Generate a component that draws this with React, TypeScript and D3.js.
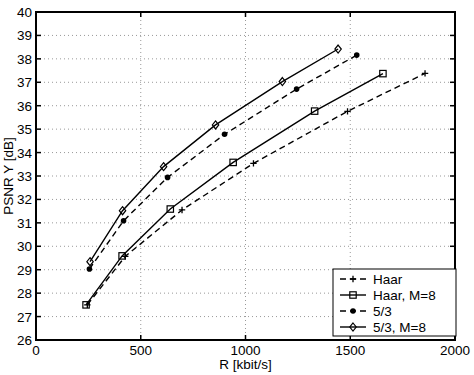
import React from "react";
import * as d3 from "d3";

const xTicks = [0, 500, 1000, 1500, 2000];
const yTicks = [26, 27, 28, 29, 30, 31, 32, 33, 34, 35, 36, 37, 38, 39, 40];

const haarR = [245, 426, 697, 1038, 1487, 1857];
const haarP = [27.5, 29.57, 31.55, 33.54, 35.76, 37.38];
const haarM8R = [239, 411, 641, 941, 1330, 1656];
const haarM8P = [27.5, 29.59, 31.59, 33.58, 35.77, 37.37];
const f53R = [255, 418, 628, 900, 1244, 1531];
const f53P = [29.03, 31.09, 32.94, 34.78, 36.71, 38.16];
const f53M8R = [258, 413, 609, 857, 1176, 1442];
const f53M8P = [29.34, 31.52, 33.4, 35.18, 37.03, 38.42];

const seriesNames = ["Haar", "Haar, M=8", "5/3", "5/3, M=8"];

type Mk = "plus" | "square" | "dot" | "diamond";

const series = [
  { name: seriesNames[0], r: haarR, p: haarP, dash: "6,4", marker: "plus" as Mk },
  { name: seriesNames[1], r: haarM8R, p: haarM8P, dash: "", marker: "square" as Mk },
  { name: seriesNames[2], r: f53R, p: f53P, dash: "6,4", marker: "dot" as Mk },
  { name: seriesNames[3], r: f53M8R, p: f53M8P, dash: "", marker: "diamond" as Mk },
];

const W = 474;
const H = 375;
const L = 36, R = 455, T = 12, B = 340;

function Marker({ type, x, y }: { type: Mk; x: number; y: number }) {
  const s = 3.2;
  if (type === "plus")
    return (
      <path d={`M${x - s},${y}H${x + s}M${x},${y - s}V${y + s}`} stroke="#000" strokeWidth={1.3} fill="none" />
    );
  if (type === "square")
    return <rect x={x - s} y={y - s} width={2 * s} height={2 * s} stroke="#000" strokeWidth={1.2} fill="none" />;
  if (type === "dot") return <circle cx={x} cy={y} r={2.8} fill="#000" />;
  const d = 4;
  return (
    <path d={`M${x},${y - d}L${x + d * 0.8},${y}L${x},${y + d}L${x - d * 0.8},${y}Z`} stroke="#000" strokeWidth={1.2} fill="none" />
  );
}

export default function App() {
  const x = d3.scaleLinear().domain([0, 2000]).range([L, R]);
  const y = d3.scaleLinear().domain([26, 40]).range([B, T]);
  const line = d3
    .line<[number, number]>()
    .x((d) => x(d[0]))
    .y((d) => y(d[1]));
  const font = "'Liberation Sans', Arial, Helvetica, sans-serif";
  const fs = 13.5;

  const legX = 333, legY = 269, legW = 123, legH = 67;
  const rowY = [279, 295, 311, 327];

  return (
    <svg width={W} height={H} style={{ position: "absolute", left: 0, top: 0, background: "#fff" }} fontFamily={font}>
      <rect x={0} y={0} width={W} height={H} fill="#fff" />
      {/* grid */}
      {xTicks.slice(1, -1).map((t) => (
        <line key={"gx" + t} x1={x(t)} x2={x(t)} y1={T} y2={B} stroke="#999" strokeWidth={1} strokeDasharray="1,3" />
      ))}
      {yTicks.slice(1, -1).map((t) => (
        <line key={"gy" + t} x1={L} x2={R} y1={y(t)} y2={y(t)} stroke="#999" strokeWidth={1} strokeDasharray="1,3" />
      ))}
      {/* ticks */}
      {xTicks.map((t) => (
        <g key={"tx" + t}>
          <line x1={x(t)} x2={x(t)} y1={B} y2={B - 5} stroke="#000" strokeWidth={1.5} />
          <line x1={x(t)} x2={x(t)} y1={T} y2={T + 5} stroke="#000" strokeWidth={1.5} />
          <text x={x(t)} y={B + 15} fontSize={fs} textAnchor="middle" fill="#000">
            {t}
          </text>
        </g>
      ))}
      {yTicks.map((t) => (
        <g key={"ty" + t}>
          <line x1={L} x2={L + 5} y1={y(t)} y2={y(t)} stroke="#000" strokeWidth={1.5} />
          <line x1={R} x2={R - 5} y1={y(t)} y2={y(t)} stroke="#000" strokeWidth={1.5} />
          <text x={L - 4} y={y(t) + 5} fontSize={fs} textAnchor="end" fill="#000">
            {t}
          </text>
        </g>
      ))}
      {/* series */}
      {series.map((s) => {
        const pts = s.r.map((r, i) => [r, s.p[i]] as [number, number]);
        return (
          <g key={s.name}>
            <path d={line(pts) || ""} fill="none" stroke="#000" strokeWidth={1.4} strokeDasharray={s.dash || undefined} />
            {pts.map((p, i) => (
              <Marker key={i} type={s.marker} x={x(p[0])} y={y(p[1])} />
            ))}
          </g>
        );
      })}
      {/* box */}
      <rect x={L} y={T} width={R - L} height={B - T} fill="none" stroke="#000" strokeWidth={2} />
      {/* legend */}
      <rect x={legX} y={legY} width={legW} height={legH} fill="#fff" stroke="#000" strokeWidth={1} />
      {series.map((s, i) => (
        <g key={"lg" + s.name}>
          <line x1={340} x2={366} y1={rowY[i]} y2={rowY[i]} stroke="#000" strokeWidth={1.4} strokeDasharray={s.dash || undefined} />
          <Marker type={s.marker} x={353} y={rowY[i]} />
          <text x={373} y={rowY[i] + 5} fontSize={fs} fill="#000">
            {s.name}
          </text>
        </g>
      ))}
      {/* axis labels */}
      <text x={(L + R) / 2} y={369} fontSize={fs} textAnchor="middle" fill="#000">
        R [kbit/s]
      </text>
      <text transform={`translate(13,${(T + B) / 2}) rotate(-90)`} fontSize={fs} textAnchor="middle" fill="#000">
        PSNR Y [dB]
      </text>
    </svg>
  );
}
